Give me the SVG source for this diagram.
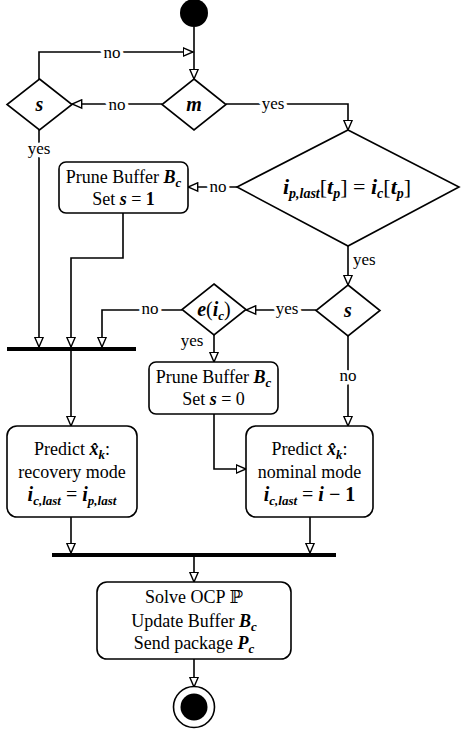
<svg xmlns="http://www.w3.org/2000/svg" width="474" height="752" viewBox="0 0 474 752">
<style>
.t{font-family:"Liberation Serif","DejaVu Serif",serif;font-size:18px;fill:#000}
.eq{font-size:20px}
.big{font-size:22px}
.m{font-style:italic;font-weight:bold}
.s{font-size:13px}
.s2{font-size:14px}
.lbl{font-family:"Liberation Serif",serif;font-size:17px;fill:#000;stroke:#fff;stroke-width:7px;paint-order:stroke;stroke-linejoin:round}
.n{fill:#fff;stroke:#000;stroke-width:1.6}
.c{fill:none;stroke:#000;stroke-width:1.6;marker-end:url(#ah)}
.bar{fill:#000}
</style>
<defs>
<marker id="ah" markerUnits="userSpaceOnUse" markerWidth="12" markerHeight="11" refX="10.5" refY="5" orient="auto" viewBox="0 0 12 10">
<path d="M0.8,0.8 L10.5,5 L0.8,9.2 z" fill="#fff" stroke="#000" stroke-width="1.4"/>
</marker>
</defs>
<g id="connectors">
<path class="c" d="M194,27 V79"/>
<path class="c" d="M39,79 V52 H193"/>
<path class="c" d="M162,104 H72"/>
<path class="c" d="M226,104 H348 V130"/>
<path class="c" d="M237,187 H188"/>
<path class="c" d="M39,130 V347"/>
<path class="c" d="M123,213 V258 H71 V347"/>
<path class="c" d="M348,246 V285"/>
<path class="c" d="M316,310 H246"/>
<path class="c" d="M182,310 H102 V347"/>
<path class="c" d="M214,335 V362"/>
<path class="c" d="M348,336 V426"/>
<path class="c" d="M71,351 V426"/>
<path class="c" d="M214,414 V469 H246"/>
<path class="c" d="M71,517 V553"/>
<path class="c" d="M310,517 V553"/>
<path class="c" d="M194,557 V582"/>
<path class="c" d="M194,659 V687"/>
<text class="lbl" x="112" y="58" text-anchor="middle">no</text>
<text class="lbl" x="117" y="110" text-anchor="middle">no</text>
<text class="lbl" x="273" y="109" text-anchor="middle">yes</text>
<text class="lbl" x="218" y="192" text-anchor="middle">no</text>
<text class="lbl" x="39" y="154" text-anchor="middle">yes</text>
<text class="lbl" x="353" y="265" text-anchor="start">yes</text>
<text class="lbl" x="287" y="314" text-anchor="middle">yes</text>
<text class="lbl" x="150" y="314" text-anchor="middle">no</text>
<text class="lbl" x="192" y="346" text-anchor="middle">yes</text>
<text class="lbl" x="348" y="381" text-anchor="middle">no</text>
</g>
<g id="start"><circle cx="194" cy="13" r="14" fill="#000"/></g>
<g id="dec-m">
<polygon class="n" points="194,79 226,104.5 194,130 162,104.5"/>
<text class="t eq m" x="194" y="111" text-anchor="middle">m</text>
</g>
<g id="dec-s1">
<polygon class="n" points="39.5,79 72,104.5 39.5,130 7,104.5"/>
<text class="t eq m" x="39.5" y="111" text-anchor="middle">s</text>
</g>
<g id="dec-idx">
<polygon class="n" points="348,130 459,187 348,246 237,187"/>
<text class="t big" x="347" y="194" text-anchor="middle"><tspan class="m">i</tspan><tspan class="m s2" dy="4">p,last</tspan><tspan dy="-4">[</tspan><tspan class="m">t</tspan><tspan class="m s2" dy="4">p</tspan><tspan dy="-4">]  =  </tspan><tspan class="m">i</tspan><tspan class="m s2" dy="4">c</tspan><tspan dy="-4">[</tspan><tspan class="m">t</tspan><tspan class="m s2" dy="4">p</tspan><tspan dy="-4">]</tspan></text>
</g>
<g id="box-prune1">
<rect class="n" x="59" y="162" width="129" height="51" rx="7"/>
<text class="t" x="123.5" y="183" text-anchor="middle">Prune Buffer <tspan class="m">B</tspan><tspan class="s m" dy="4">c</tspan></text>
<text class="t" x="123.5" y="205" text-anchor="middle">Set <tspan class="m">s</tspan> = <tspan font-weight="bold">1</tspan></text>
</g>
<g id="bar1"><rect class="bar" x="7" y="347" width="129" height="4"/></g>
<g id="dec-s2">
<polygon class="n" points="348,285 380,310.5 348,336 316,310.5"/>
<text class="t eq m" x="348" y="317" text-anchor="middle">s</text>
</g>
<g id="dec-e">
<polygon class="n" points="214,284 246,309.5 214,335 182,309.5"/>
<text class="t eq" x="214" y="316" text-anchor="middle"><tspan class="m">e</tspan>(<tspan class="m">i</tspan><tspan class="s m" dy="4">c</tspan><tspan dy="-4">)</tspan></text>
</g>
<g id="box-prune2">
<rect class="n" x="149" y="362" width="129" height="52" rx="7"/>
<text class="t" x="213.5" y="383" text-anchor="middle">Prune Buffer <tspan class="m">B</tspan><tspan class="s m" dy="4">c</tspan></text>
<text class="t" x="213.5" y="405" text-anchor="middle">Set <tspan class="m">s</tspan> = 0</text>
</g>
<g id="box-recovery">
<rect class="n" x="7" y="426" width="130" height="91" rx="10"/>
<text class="t" x="72" y="455" text-anchor="middle">Predict <tspan class="m">x̂</tspan><tspan class="s m" dy="4">k</tspan><tspan dy="-4">:</tspan></text>
<text class="t" x="72" y="478" text-anchor="middle">recovery mode</text>
<text class="t eq" x="72" y="501" text-anchor="middle"><tspan class="m">i</tspan><tspan class="s m" dy="4">c,last</tspan><tspan dy="-4"> = </tspan><tspan class="m">i</tspan><tspan class="s m" dy="4">p,last</tspan></text>
</g>
<g id="box-nominal">
<rect class="n" x="246" y="426" width="127" height="91" rx="10"/>
<text class="t" x="309.5" y="455" text-anchor="middle">Predict <tspan class="m">x̂</tspan><tspan class="s m" dy="4">k</tspan><tspan dy="-4">:</tspan></text>
<text class="t" x="309.5" y="478" text-anchor="middle">nominal mode</text>
<text class="t eq" x="309.5" y="501" text-anchor="middle"><tspan class="m">i</tspan><tspan class="s m" dy="4">c,last</tspan><tspan dy="-4"> = </tspan><tspan class="m">i</tspan><tspan font-weight="bold"> − 1</tspan></text>
</g>
<g id="bar2"><rect class="bar" x="52" y="553" width="284" height="4"/></g>
<g id="box-solve">
<rect class="n" x="97" y="582" width="194" height="77" rx="10"/>
<text class="t" x="194" y="603" text-anchor="middle">Solve OCP ℙ</text>
<text class="t" x="194" y="627" text-anchor="middle">Update Buffer <tspan class="m">B</tspan><tspan class="s m" dy="4">c</tspan></text>
<text class="t" x="194" y="649" text-anchor="middle">Send package <tspan class="m">P</tspan><tspan class="s m" dy="4">c</tspan></text>
</g>
<g id="end">
<circle cx="194" cy="707" r="20.5" fill="#fff" stroke="#000" stroke-width="1.6"/>
<circle cx="194" cy="707" r="13.5" fill="#000"/>
</g>
</svg>
